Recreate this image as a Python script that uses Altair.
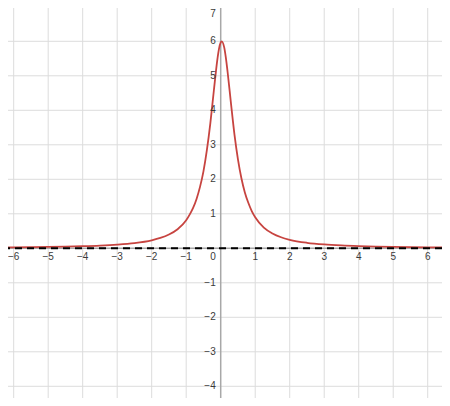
import altair as alt
import pandas as pd

# Curve values
curve_x = [-6.4, -6.0, -5.5, -5.0, -4.5, -4.0, -3.5, -3.0, -2.5, -2.0, -1.75, -1.5, -1.25,
           -1.0, -0.9, -0.8, -0.7, -0.6, -0.5, -0.4, -0.3, -0.2, -0.1, -0.05, 0.0, 0.03,
           0.1, 0.15, 0.2, 0.3, 0.4, 0.5, 0.6, 0.7, 0.8, 0.9, 1.0, 1.25, 1.5, 1.75, 2.0,
           2.5, 3.0, 3.5, 4.0, 4.5, 5.0, 5.5, 6.0, 6.65]
curve_y = [0.024, 0.027, 0.033, 0.039, 0.048, 0.061, 0.079, 0.107, 0.152, 0.233, 0.30, 0.40, 0.554,
           0.815, 0.976, 1.17, 1.43, 1.78, 2.23, 2.85, 3.63, 4.56, 5.45, 5.78, 5.97, 6.0,
           5.83, 5.52, 5.11, 4.18, 3.29, 2.58, 2.03, 1.62, 1.32, 1.08, 0.90, 0.60, 0.43, 0.32, 0.247,
           0.16, 0.111, 0.082, 0.063, 0.050, 0.040, 0.033, 0.028, 0.023]

x_ticks = [-6, -5, -4, -3, -2, -1, 1, 2, 3, 4, 5, 6]
y_ticks = [-4, -3, -2, -1, 1, 2, 3, 4, 5, 6, 7]
x_labels = ["−6", "−5", "−4", "−3", "−2", "−1", "1", "2", "3", "4", "5", "6"]
y_labels = ["−4", "−3", "−2", "−1", "1", "2", "3", "4", "5", "6", "7"]

X_DOM = [-6.165, 6.414]
Y_DOM = [-4.339, 6.965]

xs = alt.Scale(domain=X_DOM, nice=False, zero=False)
ys = alt.Scale(domain=Y_DOM, nice=False, zero=False)

curve = pd.DataFrame({"x": curve_x, "y": curve_y})
xt = pd.DataFrame({"v": x_ticks, "label": x_labels})
yt = pd.DataFrame({"v": y_ticks, "label": y_labels})
zero = pd.DataFrame({"v": [0], "label": ["0"]})

LBL = dict(fontSize=10, font="Liberation Sans", color="#3a3a3a")

grid_x = alt.Chart(xt).mark_rule(color="#dcdcdc", strokeWidth=1).encode(
    x=alt.X("v:Q", scale=xs, axis=None))
grid_y = alt.Chart(yt).mark_rule(color="#dcdcdc", strokeWidth=1).encode(
    y=alt.Y("v:Q", scale=ys, axis=None))

axis_x = alt.Chart(zero).mark_rule(color="#a8a8a8", strokeWidth=1.5).encode(
    x=alt.X("v:Q", scale=xs, axis=None))
axis_y = alt.Chart(zero).mark_rule(color="#a8a8a8", strokeWidth=1.5).encode(
    y=alt.Y("v:Q", scale=ys, axis=None))

line = alt.Chart(curve).mark_line(color="#c74440", strokeWidth=1.8, interpolate="monotone", clip=True).encode(
    x=alt.X("x:Q", scale=xs, axis=None),
    y=alt.Y("y:Q", scale=ys, axis=None))

asym = alt.Chart(zero).mark_rule(color="#000000", strokeWidth=2, strokeDash=[7, 5]).encode(
    y=alt.Y("v:Q", scale=ys, axis=None))

xlab = alt.Chart(xt).transform_calculate(zy="0").mark_text(
    baseline="middle", align="center", dy=9, **LBL).encode(
    x=alt.X("v:Q", scale=xs, axis=None),
    y=alt.Y("zy:Q", scale=ys, axis=None),
    text="label:N")
ylab = alt.Chart(yt).transform_filter("datum.v < 7").transform_calculate(zx="0").mark_text(
    baseline="middle", align="right", dx=-5, **LBL).encode(
    x=alt.X("zx:Q", scale=xs, axis=None),
    y=alt.Y("v:Q", scale=ys, axis=None),
    text="label:N")
ylab_top = alt.Chart(yt).transform_filter("datum.v >= 7").transform_calculate(zx="0").mark_text(
    baseline="top", align="right", dx=-5, **LBL).encode(
    x=alt.X("zx:Q", scale=xs, axis=None),
    y=alt.value(1),
    text="label:N")
zlab = alt.Chart(zero).mark_text(
    baseline="middle", align="right", dx=-5, dy=9, **LBL).encode(
    x=alt.X("v:Q", scale=xs, axis=None),
    y=alt.Y("v:Q", scale=ys, axis=None),
    text="label:N")

chart = alt.layer(grid_x, grid_y, axis_x, axis_y, line, asym, xlab, ylab, ylab_top, zlab).properties(
    width=434, height=390, padding=0, autosize=alt.AutoSizeParams(type="none"),
    background="white"
).configure_view(stroke=None)

chart.save("out.html", embed_options={"renderer": "svg", "actions": False})
